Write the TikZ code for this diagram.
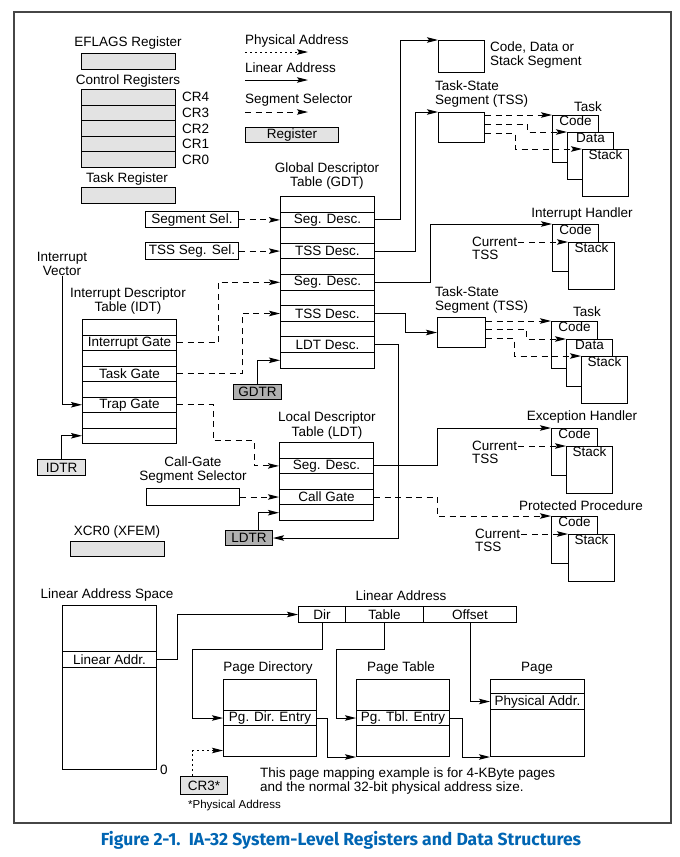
\documentclass[tikz,border=0pt]{standalone}
\usepackage{fontspec}
\setmainfont{Liberation Sans}
\newfontfamily\capfont{Fira Sans}
\usetikzlibrary{arrows.meta, positioning, calc}
\definecolor{reglight}{RGB}{227,227,227}
\definecolor{regdark}{RGB}{176,176,176}
\definecolor{capblue}{RGB}{0,101,179}
\definecolor{framegray}{RGB}{70,70,70}

\begin{document}
\begin{tikzpicture}[
        x=1pt, y=-1pt,
        font=\fontsize{13.5}{14}\selectfont,
        cell/.style={draw, line width=1pt, anchor=north west, minimum width=94pt,
                     minimum height=15.6pt, inner sep=0pt},
        box/.style 2 args={draw, line width=1pt, inner sep=0pt, anchor=north west,
                           minimum width=#1, minimum height=#2},
        seg/.style={draw, line width=1pt, fill=white, anchor=north west,
                    minimum width=46pt, minimum height=47pt, inner sep=0pt},
        lbl/.style={inner sep=1pt, align=center},
        tip/.style={-{Stealth[length=11pt,width=5.5pt,inset=2pt]}},
        lin/.style={tip, line width=1pt},
        sel/.style={tip, line width=1pt, dash pattern=on 6pt off 4.5pt},
        phys/.style={tip, line width=1pt, dash pattern=on 2pt off 3pt},
    ]
    \useasboundingbox (0,0) rectangle (680,857);
    \draw[framegray, line width=1.5pt] (14,12) rectangle (671,823);
    \node[font=\capfont\bfseries\fontsize{17.5}{17.5}\selectfont, text=capblue] (caption) at (341,840)
        {Figure 2-1.\ \ IA-32 System-Level Registers and Data Structures};

    % registers
    \node[lbl] (eflagsLbl) at (128,43) {EFLAGS Register};
    \node[box={94pt}{16pt}, fill=reglight] (eflags) at (81,53) {};
    \node[lbl] (crLbl) at (128,81) {Control Registers};
    \foreach \cr [count=\i] in {CR4,CR3,CR2,CR1,CR0} {
        \node[cell, fill=reglight] (cr\i) at (81,{89+(\i-1)*15.6}) {};
        \node[lbl, anchor=west] (crname\i) at ([xshift=5pt]cr\i.east) {\cr};
    }
    \node[lbl] (trLbl) at (127,179) {Task Register};
    \node[box={94pt}{16pt}, fill=reglight] (taskreg) at (81,187) {};

    % legend
    \node[lbl, anchor=west] (physLbl) at (244,41) {Physical Address};
    \coordinate (physA) at (245,52);
    \coordinate (physB) at (308,52);
    \draw[phys] (physA) -- (physB);
    \node[lbl, anchor=west] (linLbl) at (244,68) {Linear Address};
    \coordinate (linA) at (245,80);
    \coordinate (linB) at (308,80);
    \draw[lin] (linA) -- (linB);
    \node[lbl, anchor=west] (selLbl) at (244,100) {Segment Selector};
    \coordinate (selA) at (245,112);
    \coordinate (selB) at (308,112);
    \draw[sel] (selA) -- (selB);
    \node[box={93pt}{15pt}, fill=reglight] (legReg) at (245,127) {Register};

    % segments and task
    \node[box={46pt}{32pt}] (codeseg) at (438,40) {};
    \node[lbl, anchor=west, align=left] (codesegLbl) at (489,55.5) {Code, Data or\\Stack Segment};
    \node[lbl, anchor=west, align=left] (tss1Lbl) at (434,94) {Task-State\\Segment (TSS)};
    \node[box={46pt}{30pt}] (tss1) at (438,112) {};
    \node[lbl] (task1Lbl) at (588,107) {Task};
    \node[seg] (code1) at (552,115) {};
    \node[lbl, anchor=north] (code1Lbl) at (code1.north) {Code};
    \node[seg] (data1) at (567,132) {};
    \node[lbl, anchor=north] (data1Lbl) at (data1.north) {Data};
    \node[seg] (stack1) at (582,149) {};
    \node[lbl, anchor=north] (stack1Lbl) at (stack1.north) {Stack};
    \draw[sel] ([yshift=-3pt]tss1.north east) -- (code1.north west);
    \draw[sel] ([yshift=-12pt]tss1.north east) -- ++(42,0) |- (data1.north west);
    \draw[sel] ([yshift=-21pt]tss1.north east) -- ++(30,0) |- (stack1.north west);

    % GDT
    \node[lbl] (gdtLbl) at (327,176.5) {Global Descriptor\\Table (GDT)};
    \foreach \d [count=\i] in {{},Seg. Desc.,{},TSS Desc.,{},Seg. Desc.,{},TSS Desc.,{},LDT Desc.,{}}
        \node[cell] (gdt\i) at (280,{196+(\i-1)*15.6}) {\d};
    \node[box={93pt}{16pt}, left=41pt of gdt2] (segsel) {Segment Sel.};
    \node[box={93pt}{17pt}, left=41pt of gdt4] (tsssel) {TSS Seg. Sel.};
    \draw[sel] (segsel) -- (gdt2);
    \draw[sel] (tsssel) -- (gdt4);
    \node[box={48pt}{15pt}, fill=regdark] (gdtr) at (233,384) {GDTR};
    \draw[lin] (gdtr.north) |- (gdt11.west);

    % interrupt handler
    \node[lbl] (ihLbl) at (582,214) {Interrupt Handler};
    \node[seg] (ihcode) at (552,224) {};
    \node[lbl, anchor=north] (ihcodeLbl) at (ihcode.north) {Code};
    \node[seg] (ihstack) at (568,242) {};
    \node[lbl, anchor=north] (ihstackLbl) at (ihstack.north) {Stack};
    \node[lbl, anchor=west] (ihcur) at (471,242) {Current};
    \node[lbl, anchor=base west] (ihtss) at ([yshift=-13pt]ihcur.base west) {TSS};
    \draw[sel] (ihcur.east) -- (ihstack.north west);

    % second TSS and task
    \node[lbl, anchor=west, align=left] (tss2Lbl) at (434,300) {Task-State\\Segment (TSS)};
    \node[box={48pt}{30pt}] (tss2) at (437,317) {};
    \node[lbl] (task2Lbl) at (587,312) {Task};
    \node[seg] (code2) at (551,321) {};
    \node[lbl, anchor=north] (code2Lbl) at (code2.north) {Code};
    \node[seg] (data2) at (566,339) {};
    \node[lbl, anchor=north] (data2Lbl) at (data2.north) {Data};
    \node[seg] (stack2) at (581,356) {};
    \node[lbl, anchor=north] (stack2Lbl) at (stack2.north) {Stack};
    \draw[sel] ([yshift=-4pt]tss2.north east) -- (code2.north west);
    \draw[sel] ([yshift=-12pt]tss2.north east) -- ++(40,0) |- (data2.north west);
    \draw[sel] ([yshift=-21pt]tss2.north east) -- ++(28,0) |- (stack2.north west);

    % GDT descriptors to their targets
    \draw[lin] (gdt2.east) -- ++(25,0) |- (codeseg.north west);
    \draw[lin] (gdt4.east) -- ++(40,0) |- (tss1.north west);
    \draw[lin] (gdt6.east) -- ++(55,0) |- (ihcode.north west);
    \draw[lin] (gdt8.east) -- ++(30,0) |- (tss2.west);

    % IDT
    \node[lbl] (ivLbl) at (62,263.5) {Interrupt\\Vector};
    \node[lbl] (idtLbl) at (128,301) {Interrupt Descriptor\\Table (IDT)};
    \foreach \g [count=\i] in {{},Interrupt Gate,{},Task Gate,{},Trap Gate,{},{}}
        \node[cell, minimum height=15.5pt] (idt\i) at (82,{319+(\i-1)*15.5}) {\g};
    \draw[lin] (ivLbl.south) |- (idt6.west);
    \node[box={48pt}{16pt}, fill=reglight] (idtr) at (37,459) {IDTR};
    \draw[lin] (idtr.north) |- (idt8.west);
    \draw[sel] (idt2.east) -- ++(41,0) |- (gdt6.west);
    \draw[sel] (idt4.east) -- ++(65,0) |- (gdt8.west);

    % LDT
    \node[lbl] (ldtLbl) at (327,425.5) {Local Descriptor\\Table (LDT)};
    \foreach \l [count=\i] in {{},Seg. Desc.,{},Call Gate,{}}
        \node[cell] (ldt\i) at (279,{442+(\i-1)*15.6}) {\l};
    \draw[sel] (idt6.east) -- ++(36,0) -- ++(0,36) -- ++(41,0) |- (ldt2.west);
    \node[lbl] (cgLbl) at (193,470.5) {Call-Gate\\Segment Selector};
    \node[box={93pt}{17pt}] (callsel) at (146,488) {};
    \draw[sel] (callsel.east) -- (callsel.east -| ldt4.west);
    \node[box={47pt}{15pt}, fill=regdark] (ldtr) at (225,530) {LDTR};
    \draw[lin] ([xshift=9.5pt]ldtr.north) |- (ldt5.west);
    \draw[lin] (gdt10.east) -- ++(23,0) |- (ldtr.east);
    \node[lbl] (xcrLbl) at (117,532) {XCR0 (XFEM)};
    \node[box={94pt}{15pt}, fill=reglight] (xcr0) at (70,541) {};

    % exception handler and protected procedure
    \node[lbl] (ehLbl) at (582,417) {Exception Handler};
    \node[seg] (ehcode) at (551,428) {};
    \node[lbl, anchor=north] (ehcodeLbl) at (ehcode.north) {Code};
    \node[seg] (ehstack) at (566,446) {};
    \node[lbl, anchor=north] (ehstackLbl) at (ehstack.north) {Stack};
    \node[lbl, anchor=west] (ehcur) at (471,446) {Current};
    \node[lbl, anchor=base west] (ehtss) at ([yshift=-13pt]ehcur.base west) {TSS};
    \draw[sel] (ehcur.east) -- (ehstack.north west);
    \draw[lin] (ldt2.east) -- ++(63,0) |- (ehcode.north west);

    \node[lbl] (ppLbl) at (581,506) {Protected Procedure};
    \node[seg] (ppcode) at (551,516) {};
    \node[lbl, anchor=north] (ppcodeLbl) at (ppcode.north) {Code};
    \node[seg] (ppstack) at (568,534) {};
    \node[lbl, anchor=north] (ppstackLbl) at (ppstack.north) {Stack};
    \node[lbl, anchor=west] (ppcur) at (474,534) {Current};
    \node[lbl, anchor=base west] (pptss) at ([yshift=-13pt]ppcur.base west) {TSS};
    \draw[sel] (ppcur.east) -- (ppstack.north west);
    \draw[sel] (ldt4.east) -- ++(63,0) |- (ppcode.north west);

    % paging
    \node[lbl] (lasLbl) at (107,595) {Linear Address Space};
    \node[box={94pt}{46pt}] (las1) at (62,605) {};
    \node[box={94pt}{16pt}] (las2) at (62,651) {Linear Addr.};
    \node[box={94pt}{102pt}] (las3) at (62,667) {};
    \node[lbl, anchor=west] (zero) at (159,770) {0};

    \node[lbl] (laLbl) at (401,596) {Linear Address};
    \node[box={47pt}{16pt}] (ladir) at (298,606) {Dir};
    \node[box={78pt}{16pt}] (latbl) at (345,606) {Table};
    \node[box={93pt}{16pt}] (laoff) at (423,606) {Offset};
    \draw[lin] (las2.east) -- ++(20,0) |- (ladir.west);

    \node[lbl] (pdLbl) at (268,668) {Page Directory};
    \node[box={93pt}{31pt}] (pd1) at (223,679) {};
    \node[box={93pt}{15pt}] (pd2) at (223,710) {Pg. Dir. Entry};
    \node[box={93pt}{31pt}] (pd3) at (223,725) {};
    \node[box={47pt}{18pt}, fill=reglight] (cr3) at (180,776) {CR3*};
    \draw[phys] ([xshift=-11.5pt]cr3.north) |- ([yshift=-9.5pt]pd3.west);
    \draw[lin] (ladir.south) -- ++(0,26) -| ([xshift=-31pt]pd2.west) -- (pd2.west);

    \node[lbl] (ptLbl) at (401,668) {Page Table};
    \node[box={93pt}{31pt}] (pt1) at (356,679) {};
    \node[box={93pt}{15pt}] (pt2) at (356,710) {Pg. Tbl. Entry};
    \node[box={93pt}{31pt}] (pt3) at (356,725) {};
    \draw[lin] (pd2.east) -- ++(10,0) |- (pt3.south west);
    \draw[lin] (latbl.south) -- ++(0,26) -| ([xshift=-20pt]pt2.west) -- (pt2.west);

    \node[lbl] (pgLbl) at (537,668) {Page};
    \node[box={94pt}{14pt}] (pg1) at (490,679) {};
    \node[box={94pt}{16pt}] (pg2) at (490,693) {Physical Addr.};
    \node[box={94pt}{47pt}] (pg3) at (490,709) {};
    \draw[lin] (pt2.east) -- ++(12,0) |- (pg3.south west);
    \draw[lin] (laoff.south) |- (pg2.west);

    \node[lbl, anchor=west, align=left] (note) at (259,780.5)
        {This page mapping example is for 4-KByte pages\\and the normal 32-bit physical address size.};
    \node[lbl, anchor=west, font=\fontsize{11.5}{12}\selectfont] (physNote) at (187,806) {*Physical Address};
\end{tikzpicture}
\end{document}
